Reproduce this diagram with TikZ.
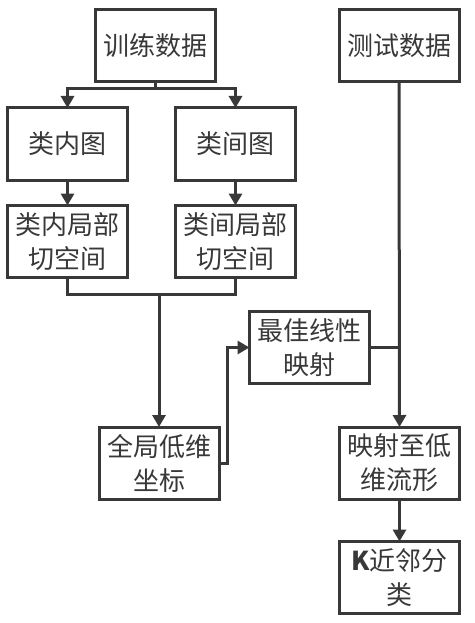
\documentclass[tikz,border=0pt]{standalone}
\usepackage{fontspec}
\setmainfont{Noto Sans CJK SC}
\usetikzlibrary{arrows.meta}
\definecolor{inkgray}{HTML}{383838}

\begin{document}
\begin{tikzpicture}[x=1pt,y=-1pt,inner sep=0pt,outer sep=0pt,line width=3pt,
  draw=inkgray,text=inkgray,>={Triangle[length=12pt,width=13pt]},
  stepbox/.style={draw,rectangle,minimum width=120pt,minimum height=72pt,
    align=center,font=\fontsize{26}{34}\selectfont,line width=3pt}]

\useasboundingbox (0,0) rectangle (474,623);

\draw (155,45.5) node[stepbox] (train) {训练数据};
\draw (399,45.5) node[stepbox] (test) {测试数据};
\draw (67.5,144) node[stepbox] (intra) {类内图};
\draw (235.5,144) node[stepbox] (inter) {类间图};
\draw (67.5,241.5) node[stepbox] (intraT) {类内局部\\切空间};
\draw (235.5,241.5) node[stepbox] (interT) {类间局部\\切空间};
\draw (309.5,347.5) node[stepbox] (best) {最佳线性\\映射};
\draw (159,463) node[stepbox] (glob) {全局低维\\坐标};
\draw (399.5,463) node[stepbox] (map) {映射至低\\维流形};
\draw (399.5,577.5) node[stepbox] (knn) {\textbf{K}近邻分\\类};

\coordinate (split) at (155,89);
\coordinate (merge) at (159,294);

\draw (train.south) -- (split);
\draw[->] (split) -| (intra.north);
\draw[->] (split) -| (inter.north);
\draw[->] (intra) -- (intraT);
\draw[->] (inter) -- (interT);
\draw (intraT.south) |- (merge);
\draw (interT.south) |- (merge);
\draw[->] (merge) -- (glob.north);
\draw[->] (glob.east) -- ++(8,0) |- (best.west);
\draw (best.east) -- (test.south |- best.east);
\draw[->] (test.south) -- (map.north);
\draw[->] (map) -- (knn);
\end{tikzpicture}
\end{document}
